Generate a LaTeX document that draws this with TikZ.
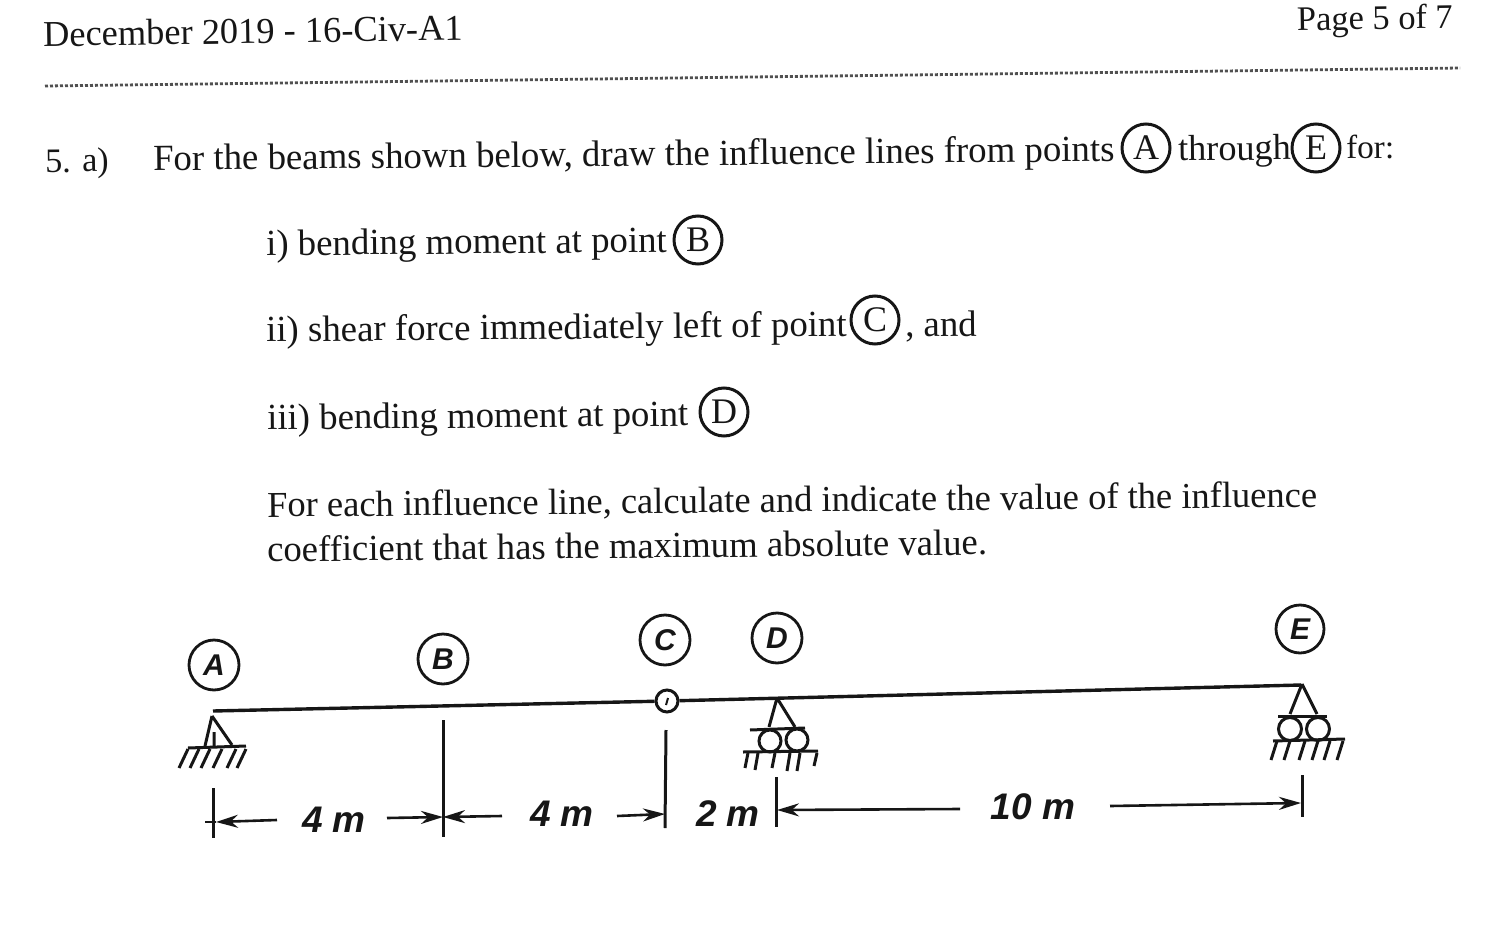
\documentclass[tikz,border=0pt]{standalone}
\usepackage{fontspec}
\setmainfont{Liberation Serif}
\newfontfamily\handfont[ItalicFont={Liberation Sans Bold Italic}]{Liberation Sans}
\usetikzlibrary{arrows.meta}
\definecolor{ink}{HTML}{161616}
\tikzset{
 body/.style={anchor=west,inner sep=0pt,text=ink,font=\fontsize{36.8}{40}\selectfont,rotate=0.55},
 tcirc/.style={circle,draw=ink,line width=3pt,minimum size=48pt,inner sep=0pt,text=ink,font=\fontsize{36}{40}\selectfont},
 hcirc/.style={circle,draw=ink,line width=2.8pt,minimum size=50pt,inner sep=0pt,text=ink,font=\handfont\itshape\fontsize{30}{32}\selectfont},
 hand/.style={inner sep=0pt,text=ink,font=\handfont\itshape\fontsize{37}{38}\selectfont},
 beam/.style={draw=ink,line width=3.4pt},
 sup/.style={draw=ink,line width=3pt},
 tick/.style={draw=ink,line width=3pt},
 dim/.style={draw=ink,line width=2.6pt,-{Stealth[length=22pt,width=13pt]}},
 plain/.style={draw=ink,line width=2.6pt}
}
\begin{document}
\begin{tikzpicture}[x=1pt,y=-1pt]
\useasboundingbox (0,0) rectangle (1494,934);
% header
\node[body,rotate=0.3,font=\fontsize{36.4}{40}\selectfont] (hd) at (43,34) {December 2019 - 16-Civ-A1};
\node[body,anchor=east,rotate=0.3,font=\fontsize{34.4}{40}\selectfont] (pg) at (1453,20) {Page 5 of 7};
\coordinate (rl) at (45,86); \coordinate (rr) at (1460,68);
\draw[draw=ink!75,line width=2.8pt,dash pattern=on 3pt off 2pt] (rl) -- (rr);
% question text
\node[body,font=\fontsize{34.2}{40}\selectfont] (qn) at (45,164) {5. a)};
\node[body] (q1) at (153,161.5) {For the beams shown below, draw the influence lines from points};
\node[tcirc] (ca) at (1146,148) {A};
\node[body,font=\fontsize{36.2}{40}\selectfont] (q2) at (1178,152) {through};
\node[tcirc] (ce) at (1316,148) {E};
\node[body,font=\fontsize{33.2}{40}\selectfont] (q3) at (1346,147) {for:};
\node[body] (i1) at (266,247) {i) bending moment at point};
\node[tcirc] (cb) at (698,240) {B};
\node[body] (i2) at (266,333) {ii) shear force immediately left of point};
\node[tcirc] (cc) at (875,320) {C};
\node[body] (i2b) at (905,327) {, and};
\node[body] (i3) at (267,421) {iii) bending moment at point};
\node[tcirc] (cd) at (724,412) {D};
\node[body,font=\fontsize{36.5}{40}\selectfont] (p1) at (267,507) {For each influence line, calculate and indicate the value of the influence};
\node[body,font=\fontsize{36.7}{40}\selectfont] (p2) at (267,549) {coefficient that has the maximum absolute value.};
% diagram labels
\node[hcirc] (la) at (214,665) {A};
\node[hcirc] (lb) at (443,659) {B};
\node[hcirc] (lc) at (665,640) {C};
\node[hcirc] (ld) at (777,638) {D};
\node[hcirc,minimum size=48pt] (le) at (1300,629) {E};
% beam
\coordinate (ba) at (213,711);
\coordinate (be) at (1301,685);
\node[circle,draw=ink,line width=3pt,minimum size=22pt,inner sep=0pt,fill=white] (hinge) at (667,701) {};
\draw[beam] (ba) -- (hinge);
\draw[beam] (hinge) -- (be);
\coordinate (h1) at (668,698); \coordinate (h2) at (666,705);
\draw[draw=ink,line width=2pt] (h1) -- (h2);
% support A
\draw[sup] (212,716) -- (205,746) (212,716) -- (232,745) (214,732) -- (214,746);
\draw[sup] (188,748) -- (246,746);
\foreach \x in {188,199,210,222,236,246} \draw[sup] (\x,749) -- (\x-9,768);
% support D
\draw[sup] (777,698) -- (769,727) (777,698) -- (795,727);
\draw[sup] (750,730) -- (805,728);
\draw[sup] (770,741) circle (11) (797,740) circle (11);
\draw[sup] (743,752) -- (818,751);
\foreach \x/\l in {748/15,758/17,775/15,790/18,800/18,817/13} \draw[sup] (\x,753) -- (\x-3,753+\l);
% support E
\draw[sup] (1302,684) -- (1290,714) (1302,684) -- (1317,714);
\draw[sup] (1278,716) -- (1327,716);
\draw[sup] (1290,729) circle (11.5) (1318,729) circle (11.5);
\draw[sup] (1273,741) -- (1345,739);
\foreach \x in {1277,1290,1305,1318,1330,1343} \draw[sup] (\x,741) -- (\x-6,760);
% dimension ticks
\coordinate (ta1) at (213,788); \coordinate (ta2) at (213,838);
\coordinate (tb1) at (443,720); \coordinate (tb2) at (443,837);
\coordinate (tc1) at (666,730); \coordinate (tc2) at (665,828);
\coordinate (td1) at (776,777); \coordinate (td2) at (776,827);
\coordinate (te1) at (1302,775); \coordinate (te2) at (1302,817);
\foreach \a/\b in {ta1/ta2,tb1/tb2,tc1/tc2,td1/td2,te1/te2} \draw[tick] (\a) -- (\b);
% dimension lines
\coordinate (a0) at (205,822); \coordinate (a1) at (277,820);
\coordinate (a2) at (216,822);
\draw[dim] (a1) -- (a2);
\draw[plain] (a0) -- (a2);
\coordinate (b1) at (387,818); \coordinate (b2) at (443,817);
\coordinate (b3) at (502,816);
\draw[dim] (b1) -- (b2);
\draw[dim] (b3) -- (b2);
\coordinate (c1) at (617,816); \coordinate (c2) at (665,814);
\draw[dim] (c1) -- (c2);
\coordinate (d1) at (960,809); \coordinate (d2) at (777,810);
\draw[dim] (d1) -- (d2);
\coordinate (e1) at (1110,806); \coordinate (e2) at (1301,803);
\draw[dim] (e1) -- (e2);
\node[hand] (m1) at (334,820) {4 m};
\node[hand] (m2) at (562,814) {4 m};
\node[hand] (m3) at (728,814) {2 m};
\node[hand] (m4) at (1033,807) {10 m};
\end{tikzpicture}
\end{document}
